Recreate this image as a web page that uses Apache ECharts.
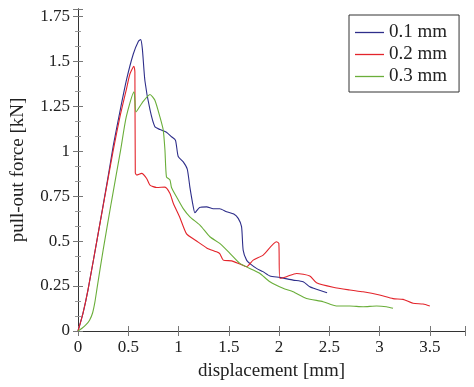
<!DOCTYPE html>
<html>
<head>
<meta charset="utf-8">
<script src="https://cdn.jsdelivr.net/npm/echarts@6/dist/echarts.min.js"></script>
<style>
  html, body { margin: 0; padding: 0; background: #fff; }
  #pullOut { width: 474px; height: 387px; }
</style>
</head>
<body>
<div id="pullOut"></div>
<script>
// measured curves, [displacement mm, force kN]
const names = ['0.1 mm', '0.2 mm', '0.3 mm']
const colors = ['#2e2e8a', '#e3242b', '#6aae3a']

const blue = [
  [0, 0], [0.05, 0.1], [0.1, 0.23], [0.2, 0.54], [0.3, 0.86], [0.351, 1.03], [0.417, 1.22],
  [0.484, 1.4], [0.55, 1.54], [0.6, 1.61], [0.623, 1.62], [0.64, 1.57], [0.666, 1.39],
  [0.716, 1.23], [0.765, 1.135], [0.815, 1.12], [0.88, 1.105], [0.93, 1.08], [0.97, 1.06],
  [0.997, 0.97], [1.047, 0.94], [1.087, 0.9], [1.113, 0.8], [1.147, 0.69], [1.163, 0.657],
  [1.21, 0.687], [1.28, 0.69], [1.345, 0.68], [1.41, 0.68], [1.478, 0.663], [1.55, 0.65],
  [1.594, 0.626], [1.627, 0.58], [1.643, 0.45], [1.677, 0.394], [1.72, 0.37], [1.776, 0.348],
  [1.84, 0.33], [1.909, 0.306], [2.008, 0.298], [2.14, 0.283], [2.24, 0.274], [2.306, 0.246],
  [2.373, 0.232], [2.478, 0.213]
]

const red = [
  [0, 0], [0.05, 0.1], [0.1, 0.23], [0.2, 0.54], [0.3, 0.85], [0.351, 1.006], [0.417, 1.19],
  [0.484, 1.35], [0.517, 1.43], [0.556, 1.472], [0.566, 1.44], [0.57, 0.88], [0.583, 0.867],
  [0.633, 0.876], [0.683, 0.848], [0.716, 0.811], [0.782, 0.798], [0.865, 0.8], [0.915, 0.765],
  [0.948, 0.71], [1.014, 0.63], [1.08, 0.54], [1.18, 0.5], [1.28, 0.462], [1.378, 0.44],
  [1.41, 0.43], [1.445, 0.394], [1.528, 0.39], [1.61, 0.372], [1.677, 0.357], [1.743, 0.394],
  [1.842, 0.422], [1.975, 0.496], [1.998, 0.487], [2.008, 0.293], [2.074, 0.302], [2.174, 0.32],
  [2.306, 0.306], [2.373, 0.268], [2.538, 0.243], [2.704, 0.228], [2.836, 0.218], [3.0, 0.2],
  [3.134, 0.18], [3.234, 0.176], [3.333, 0.154], [3.433, 0.15], [3.5, 0.139]
]

const green = [
  [0, 0], [0.04, 0.015], [0.08, 0.035], [0.115, 0.06], [0.145, 0.1], [0.168, 0.16],
  [0.19, 0.24], [0.25, 0.45], [0.33, 0.71], [0.424, 1.006], [0.48, 1.19], [0.557, 1.33],
  [0.566, 1.28], [0.577, 1.218], [0.64, 1.27], [0.716, 1.315], [0.765, 1.283], [0.815, 1.19],
  [0.848, 1.117], [0.865, 1.006], [0.88, 0.857], [0.915, 0.84], [0.93, 0.798], [0.98, 0.746],
  [1.047, 0.68], [1.113, 0.635], [1.213, 0.589], [1.312, 0.524], [1.41, 0.487], [1.511, 0.432],
  [1.61, 0.376], [1.743, 0.339], [1.81, 0.32], [1.909, 0.274], [2.04, 0.237], [2.14, 0.218],
  [2.273, 0.181], [2.438, 0.163], [2.571, 0.139], [2.704, 0.139], [2.836, 0.135], [2.97, 0.139],
  [3.068, 0.135], [3.134, 0.126]
]

const xTicks = [0, 0.5, 1, 1.5, 2, 2.5, 3, 3.5]
const yTicks = [0, 0.25, 0.5, 0.75, 1, 1.25, 1.5, 1.75]

const font = 'Liberation Serif'
const xMax = 3.85
const yMax = 1.79

let myChart = echarts.init(document.getElementById('pullOut'))

const axisLineOption = {show: true, lineStyle: {color: '#333', width: 1}}
const tickOption = {show: true, inside: true, length: 5, lineStyle: {color: '#777'}}
const minorOption = {show: true, splitNumber: 3, length: 3, lineStyle: {color: '#999'}}

function xAxisOf (pos, showLabel) {
  return {
    type: 'value', position: pos, min: 0, max: xMax, interval: 0.5,
    axisLine: axisLineOption, axisTick: tickOption, splitLine: {show: false},
    axisLabel: {
      show: showLabel, margin: 8, color: '#222', fontFamily: font, fontSize: 17,
      formatter: v => xTicks.includes(v) ? String(v) : ''
    },
    name: showLabel ? 'displacement [mm]' : '', nameLocation: 'middle', nameGap: 31,
    nameTextStyle: {color: '#222', fontFamily: font, fontSize: 19}
  }
}

function yAxisOf (pos, showLabel) {
  return {
    type: 'value', position: pos, min: 0, max: yMax, interval: 0.25,
    axisLine: axisLineOption, axisTick: tickOption, minorTick: minorOption, splitLine: {show: false},
    axisLabel: {
      show: showLabel, margin: 8, color: '#222', fontFamily: font, fontSize: 17,
      formatter: v => yTicks.includes(v) ? String(v) : ''
    },
    name: showLabel ? 'pull-out force [kN]' : '', nameLocation: 'middle', nameGap: 50,
    nameTextStyle: {color: '#222', fontFamily: font, fontSize: 19}
  }
}

const seriesData = [blue, red, green]

let option = {
  animation: false,
  grid: {left: 78, top: 9, right: 9, bottom: 56},
  legend: {
    data: names, left: 349, top: 15, orient: 'vertical',
    icon: 'rect', itemWidth: 29, itemHeight: 1.3, itemGap: 3, padding: [8, 12, 6, 6],
    borderColor: '#333', borderWidth: 1,
    textStyle: {fontFamily: font, fontSize: 19, color: '#222'}
  },
  xAxis: [xAxisOf('bottom', true), xAxisOf('top', false)],
  yAxis: [yAxisOf('left', true), yAxisOf('right', false)],
  series: seriesData.map((d, i) => ({
    name: names[i], type: 'line', data: d, symbol: 'none', smooth: 0.2,
    xAxisIndex: 0, yAxisIndex: 0,
    lineStyle: {color: colors[i], width: 1.1}, itemStyle: {color: colors[i]}
  }))
}
myChart.setOption(option)
</script>
</body>
</html>
